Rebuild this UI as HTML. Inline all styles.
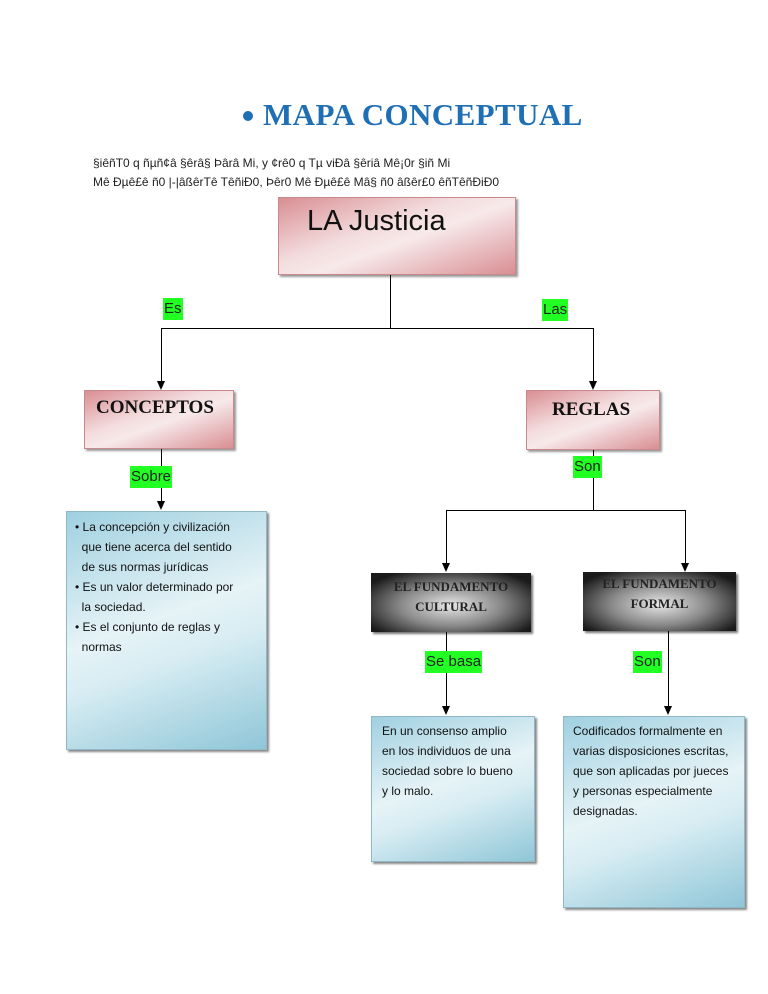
<!DOCTYPE html>
<html><head><meta charset="utf-8"><style>
body{margin:0;width:768px;height:994px;background:#fff;position:relative;overflow:hidden;font-family:"Liberation Sans",sans-serif}
.a{position:absolute}
.pink{background:linear-gradient(160deg,#d98e93 0%,#f3dcdd 40%,#f7e9ea 55%,#d98e93 100%);box-shadow:2px 2px 2px #999;border:1px solid #c7898c;box-sizing:border-box}
.blue{background:linear-gradient(160deg,#9fd0e0 0%,#e6f3f7 45%,#d8edf3 60%,#8fc6d8 100%);box-shadow:2px 2px 2px #888;border:1px solid #8fb8c8;box-sizing:border-box;font-family:"Liberation Sans",sans-serif;font-size:12px;line-height:20px;color:#111}
.dark{background:radial-gradient(ellipse at 50% 55%,#e8e8e8 0%,#888 45%,#1a1a1a 85%);box-shadow:2px 2px 2px #777;box-sizing:border-box;font-family:"Liberation Serif",serif;font-weight:bold;font-size:13px;text-align:center;color:#222;line-height:20px}
.g{background:#22ff22;font-size:15px;line-height:22px;color:#222;padding:0 1px}
.l{background:#000}
.ar{width:0;height:0;border-left:4px solid transparent;border-right:4px solid transparent;border-top:9px solid #000}
.bt{font-family:"Liberation Serif",serif;font-weight:bold;font-size:19px;color:#111}
</style></head><body>
<div class="a" style="left:243px;top:111px;width:10px;height:10px;border-radius:50%;background:#1f6fb5"></div>
<div class="a" style="left:263px;top:97px;font-family:'Liberation Serif',serif;font-weight:bold;font-size:31px;color:#1f6fb5;letter-spacing:0.4px;white-space:nowrap">MAPA CONCEPTUAL</div>
<div class="a" style="left:93px;top:154px;font-size:12px;line-height:19px;color:#222">§iêñT0 q ñµñ¢â §êrâ§ Þârâ Mi, y ¢rê0 q Tµ viÐâ §êriâ Mê¡0r §iñ Mi<br>Mê Ðµê£ê ñ0 |-|âßêrTê TêñiÐ0, Þêr0 Mê Ðµê£ê Mâ§ ñ0 âßêr£0 êñTêñÐiÐ0</div>

<div class="a pink" style="left:278px;top:197px;width:238px;height:78px"></div>
<div class="a" style="left:307px;top:205px;font-size:29px;color:#111">LA Justicia</div>

<div class="a l" style="left:390px;top:275px;width:1px;height:54px"></div>
<div class="a l" style="left:161px;top:328px;width:433px;height:1px"></div>
<div class="a l" style="left:161px;top:328px;width:1px;height:54px"></div>
<div class="a ar" style="left:157px;top:381px"></div>
<div class="a l" style="left:593px;top:328px;width:1px;height:54px"></div>
<div class="a ar" style="left:589px;top:381px"></div>
<div class="a g" style="left:163px;top:298px">Es</div>
<div class="a g" style="left:542px;top:299px">Las</div>

<div class="a pink" style="left:84px;top:390px;width:150px;height:59px"></div>
<div class="a bt" style="left:96px;top:397px">CONCEPTOS</div>
<div class="a pink" style="left:526px;top:390px;width:134px;height:60px"></div>
<div class="a bt" style="left:552px;top:399px">REGLAS</div>

<div class="a l" style="left:161px;top:449px;width:1px;height:53px"></div>
<div class="a ar" style="left:157px;top:501px"></div>
<div class="a g" style="left:130px;top:466px">Sobre</div>

<div class="a l" style="left:593px;top:450px;width:1px;height:61px"></div>
<div class="a g" style="left:573px;top:456px">Son</div>
<div class="a l" style="left:446px;top:510px;width:239px;height:1px"></div>
<div class="a l" style="left:446px;top:510px;width:1px;height:54px"></div>
<div class="a ar" style="left:442px;top:563px"></div>
<div class="a l" style="left:685px;top:510px;width:1px;height:54px"></div>
<div class="a ar" style="left:681px;top:563px"></div>

<div class="a blue" style="left:66px;top:511px;width:201px;height:239px;padding:5px 0 0 8px">
<div>• La concepción y civilización<br>&nbsp;&nbsp;que tiene acerca del sentido<br>&nbsp;&nbsp;de sus normas jurídicas</div>
<div>• Es un valor determinado por<br>&nbsp;&nbsp;la sociedad.</div>
<div>• Es el conjunto de reglas y<br>&nbsp;&nbsp;normas</div>
</div>

<div class="a dark" style="left:371px;top:573px;width:160px;height:59px;padding-top:4px">EL FUNDAMENTO<br>CULTURAL</div>
<div class="a dark" style="left:583px;top:572px;width:153px;height:59px;padding-top:2px">EL FUNDAMENTO<br>FORMAL</div>

<div class="a l" style="left:446px;top:632px;width:1px;height:75px"></div>
<div class="a ar" style="left:442px;top:706px"></div>
<div class="a g" style="left:425px;top:651px">Se basa</div>
<div class="a l" style="left:668px;top:631px;width:1px;height:76px"></div>
<div class="a ar" style="left:664px;top:706px"></div>
<div class="a g" style="left:633px;top:651px">Son</div>

<div class="a blue" style="left:371px;top:716px;width:164px;height:146px;padding:4px 0 0 10px">En un consenso amplio<br>en los individuos de una<br>sociedad sobre lo bueno<br>y lo malo.</div>
<div class="a blue" style="left:563px;top:716px;width:182px;height:192px;padding:4px 0 0 9px">Codificados formalmente en<br>varias disposiciones escritas,<br>que son aplicadas por jueces<br>y personas especialmente<br>designadas.</div>
</body></html>
